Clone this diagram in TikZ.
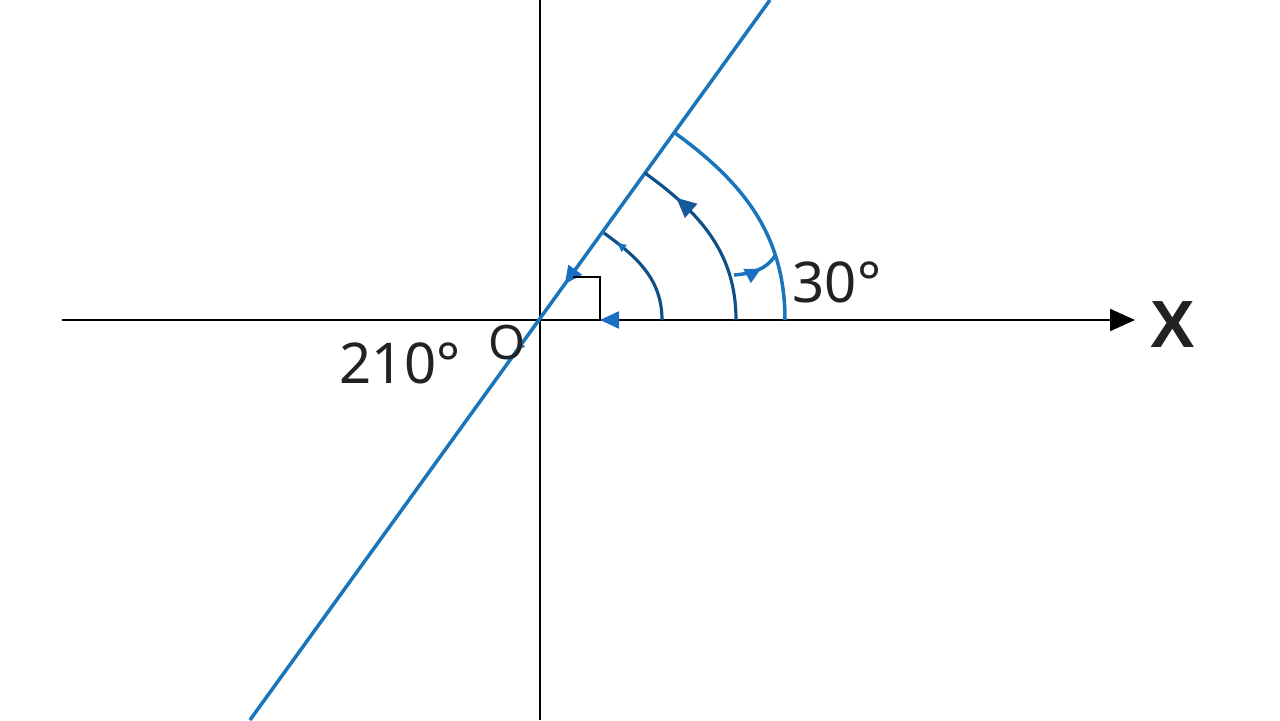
\documentclass[tikz,border=0pt]{standalone}
\usepackage{fontspec}
\setmainfont{Noto Sans}
\newfontfamily\axisfont{Liberation Sans}
\usetikzlibrary{arrows.meta,decorations.markings,positioning}

\definecolor{lineblue}{HTML}{1B75BB}
\definecolor{arcnavy}{HTML}{0E4F86}
\definecolor{tipblue}{HTML}{1A6FC2}
\definecolor{inkgray}{HTML}{222222}

\tikzset{
  deglabel/.style={inner sep=0pt,text=inkgray,font=\fontsize{32}{38}\selectfont}
}

\begin{document}
\begin{tikzpicture}
  \useasboundingbox (-10.8,-8) rectangle (14.8,6.4);

  \coordinate (O) at (0,0);

  % axes
  \draw [line width=1.3pt,color=black,-{Triangle[length=0.5cm,width=0.44cm]},
    postaction={decorate},decoration={markings,
      mark=at position 10.76cm with {\arrowreversed[color=tipblue]{Triangle[length=0.38cm,width=0.34cm]}}}]
    (-9.56,0) -- (11.9,0);
  \draw [line width=1.3pt,color=black] (0,-8) -- (0,6.4);

  % the slanted line
  \draw [line width=2pt,color=lineblue,postaction={decorate},decoration={markings,
      mark=at position 10.75cm with {\arrowreversed[color=tipblue]{Triangle[length=0.36cm,width=0.32cm]}},
      mark=at position 9.1cm with {\arrowreversed[color=tipblue]{Triangle[length=0.18cm,width=0.16cm]}}}]
    (-5.8,-8) -- (4.6,6.4);

  % right angle
  \draw [line width=1.2pt,color=black] (0.66,0.86) -- (1.2,0.86) -- (1.2,0);

  % arcs
  \coordinate (a1) at (2.44,0);   \coordinate (b1) at (1.28,1.74);
  \coordinate (a2) at (3.92,0);   \coordinate (b2) at (2.1,2.94);
  \coordinate (a3) at (4.9,0);    \coordinate (b3) at (2.7,3.74);

  \draw [line width=1.8pt,color=arcnavy,postaction={decorate},decoration={markings,
      mark=at position 0.85 with {\arrow[color=tipblue]{Triangle[length=0.18cm,width=0.16cm]}}}]
    (a1) to[out=90,in=-36] (b1);
  \draw [line width=1.8pt,color=arcnavy,postaction={decorate},decoration={markings,
      mark=at position 0.78 with {\arrow[color=tipblue!80!black]{Triangle[length=0.4cm,width=0.36cm]}}}]
    (a2) to[out=90,in=-36] (b2);
  \draw [line width=2pt,color=lineblue] (a3) to[out=90,in=-36] (b3);

  % small hook between the two outer arcs
  \coordinate (c1) at (3.88,0.9);
  \coordinate (c2) at (4.7,1.28);
  \draw [line width=2pt,color=lineblue,postaction={decorate},decoration={markings,
      mark=at position 0.6 with {\arrow[color=tipblue]{Triangle[length=0.32cm,width=0.3cm]}}}]
    (c1) to[out=5,in=235] (c2);

  % labels
  \node [deglabel] (d210) at (-2.8,-0.86) {210°};
  \node [deglabel] (d30) at (5.94,0.76) {30°};
  \node [inner sep=0pt,text=inkgray,font=\fontsize{27}{32}\selectfont] (olab) at (-0.66,-0.46) {O};
  \node [inner sep=0pt,text=inkgray,font=\axisfont\bfseries\fontsize{38}{44}\selectfont] (xlab) at (12.66,-0.1) {X};
\end{tikzpicture}
\end{document}
